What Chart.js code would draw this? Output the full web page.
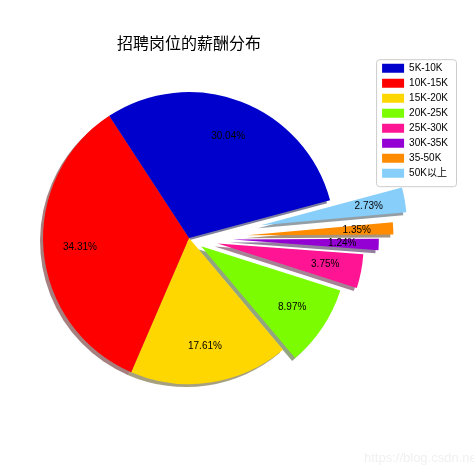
<!DOCTYPE html>
<html>
<head>
<meta charset="utf-8">
<script src="https://cdn.jsdelivr.net/npm/chart.js@4.4.1/dist/chart.umd.min.js"></script>
<style>
  html, body { margin: 0; padding: 0; background: #fff; }
  canvas { display: block; }
</style>
</head>
<body>
<canvas id="myChart" width="474" height="473"></canvas>
<script>
// salary bands and their share of job postings (%)
const categories = ["5K-10K", "10K-15K", "15K-20K", "20K-25K", "25K-30K", "30K-35K", "35-50K", "50K以上"];
const shares = [30.04, 34.31, 17.61, 8.97, 3.75, 1.24, 1.35, 2.73];
const sliceColors = ["#0000CD", "#FF0000", "#FFD700", "#7CFC00", "#FF1493", "#9400D3", "#FF8C00", "#87CEFA"];
const explode = [0, 0, 0, 0.1, 0.2, 0.3, 0.4, 0.5];
const startAngle = 15; // matplotlib style, degrees ccw from 3 o'clock

const FONT = '"Liberation Sans", "Noto Sans CJK SC", sans-serif';
const CJK = '"Noto Sans CJK SC", sans-serif';

// chart.js goes clockwise, matplotlib goes counter-clockwise -> reverse
const order = categories.map((_, i) => i).reverse();
const labelsR = order.map(i => categories[i]);
const sharesR = order.map(i => shares[i]);
const colorsR = order.map(i => sliceColors[i]);
const explodeR = order.map(i => explode[i]);

function shadowOf(hex) {
  const r = parseInt(hex.slice(1, 3), 16), g = parseInt(hex.slice(3, 5), 16), b = parseInt(hex.slice(5, 7), 16);
  return `rgba(${Math.round(r * 0.3)},${Math.round(g * 0.3)},${Math.round(b * 0.3)},0.5)`;
}
const shadowR = colorsR.map(shadowOf);

const pieExtras = {
  id: 'pieExtras',
  afterDatasetUpdate(chart, args) {
    // push slices out along their middle angle
    args.meta.data.forEach((arc, j) => {
      const mid = (arc.startAngle + arc.endAngle) / 2;
      const d = explodeR[j] * arc.outerRadius;
      arc.x += Math.cos(mid) * d;
      arc.y += Math.sin(mid) * d;
    });
  },
  beforeDraw(chart) {
    // legend frame
    const lg = chart.legend;
    if (!lg || !lg.columnSizes) return;
    const ctx = chart.ctx;
    const pad = lg.options.labels.padding;
    const x = lg.left - 0.5, y = lg.top + 1.5;
    const w = lg.width - 1, h = pad + lg.columnSizes[0].height + 2;
    ctx.save();
    ctx.beginPath();
    ctx.roundRect(x, y, w, h, 3);
    ctx.fillStyle = 'rgba(255,255,255,0.8)';
    ctx.fill();
    ctx.strokeStyle = '#cccccc';
    ctx.lineWidth = 1;
    ctx.stroke();
    ctx.restore();
  },
  beforeDatasetsDraw(chart) {
    // drop shadows under every slice
    const ctx = chart.ctx;
    ctx.save();
    chart.getDatasetMeta(0).data.forEach((arc, j) => {
      const sx = arc.x - 3, sy = arc.y + 3;
      ctx.beginPath();
      ctx.moveTo(sx, sy);
      ctx.arc(sx, sy, arc.outerRadius, arc.startAngle, arc.endAngle);
      ctx.closePath();
      ctx.fillStyle = shadowR[j];
      ctx.fill();
    });
    ctx.restore();
  },
  afterDatasetsDraw(chart) {
    // percentage labels
    const ctx = chart.ctx;
    ctx.save();
    ctx.font = '10px ' + FONT;
    ctx.fillStyle = '#000';
    ctx.textAlign = 'center';
    ctx.textBaseline = 'middle';
    chart.getDatasetMeta(0).data.forEach((arc, j) => {
      const mid = (arc.startAngle + arc.endAngle) / 2;
      const r = arc.outerRadius * 0.75;
      ctx.fillText(sharesR[j].toFixed(2) + '%', arc.x + Math.cos(mid) * r, arc.y + Math.sin(mid) * r);
    });
    ctx.restore();
  },
  afterDraw(chart) {
    const ctx = chart.ctx;
    ctx.save();
    ctx.font = '13px ' + FONT;
    ctx.fillStyle = '#f0f0f0';
    ctx.textBaseline = 'middle';
    ctx.fillText('https://blog.csdn.net', 364, 458);
    ctx.restore();
  }
};

new Chart("myChart", {
  type: "pie",
  data: {
    labels: labelsR,
    datasets: [{
      data: sharesR,
      backgroundColor: colorsR,
      borderWidth: 0
    }]
  },
  options: {
    responsive: false,
    animation: false,
    events: [],
    rotation: 90 - startAngle,
    radius: 146,
    layout: { padding: { left: 1, right: 16, top: 0, bottom: 55 } },
    plugins: {
      tooltip: { enabled: false },
      title: {
        display: true,
        text: "招聘岗位的薪酬分布",
        color: '#000',
        fullSize: false,
        font: { family: CJK, size: 16, weight: 'normal' },
        padding: { top: 33, bottom: 6 }
      },
      legend: {
        position: 'right',
        align: 'start',
        fullSize: false,
        reverse: true,
        labels: {
          color: '#000',
          boxWidth: 22,
          boxHeight: 9,
          padding: 5,
          font: { family: FONT, size: 10 }
        }
      }
    }
  },
  plugins: [pieExtras]
});
</script>
</body>
</html>
